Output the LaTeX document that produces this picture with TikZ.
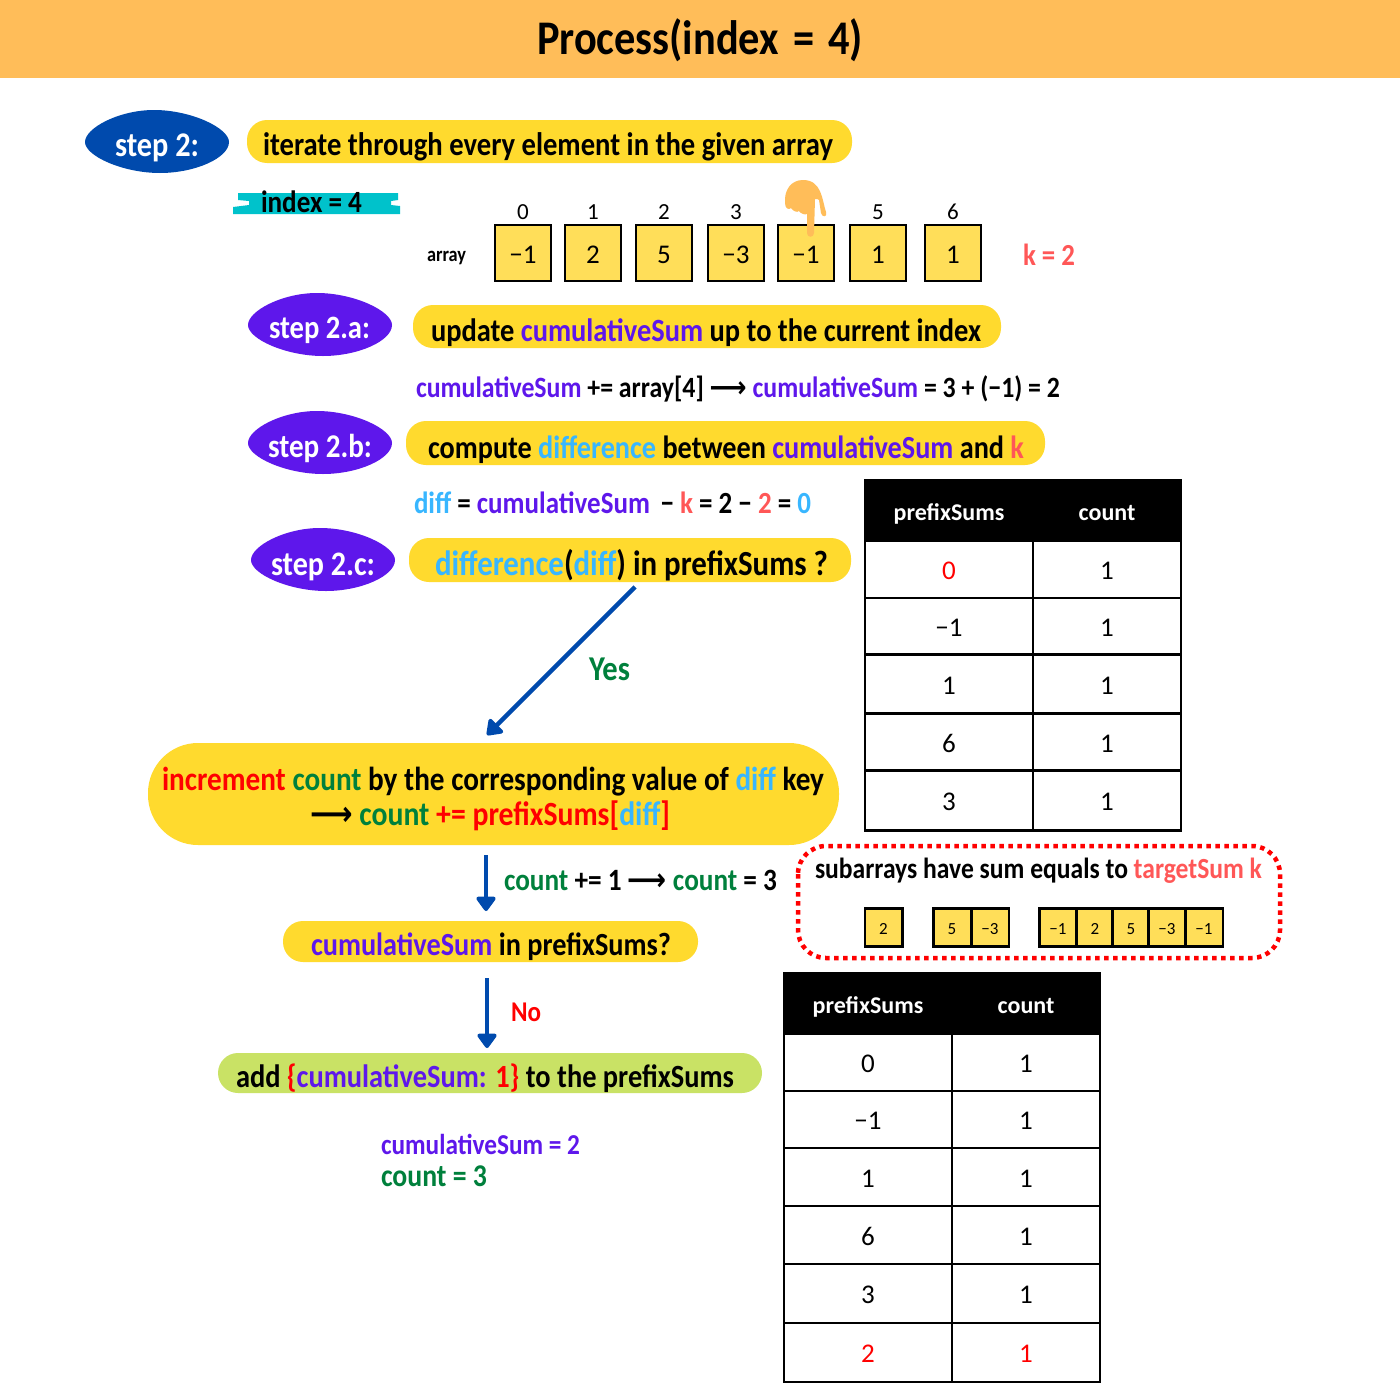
\documentclass[tikz,border=0pt]{standalone}
\usepackage{fontspec}
\usepackage{graphicx}
\usetikzlibrary{arrows.meta}
\setmainfont{Carlito}
\newfontfamily\symfont{DejaVu Sans}
\definecolor{hdr}{HTML}{FFBD59}
\definecolor{pillc}{HTML}{FFDA2E}
\definecolor{cellc}{HTML}{FFDE59}
\definecolor{navy}{HTML}{004AAD}
\definecolor{purp}{HTML}{5E17EB}
\definecolor{teal2}{HTML}{00C2CB}
\definecolor{coral}{HTML}{FF5757}
\definecolor{pure}{HTML}{FF0000}
\definecolor{grn}{HTML}{00803C}
\definecolor{sky}{HTML}{38B6FF}
\definecolor{lime2}{HTML}{C9E265}
\newcommand\cs{\textcolor{purp}{cumulativeSum}}
\newcommand\dif[1]{\textcolor{sky}{#1}}
\newcommand\cnt{\textcolor{grn}{count}}
\newcommand\arr{{\symfont\char"27F6}}
\newcommand\mn{\char"2212\relax}
% left-aligned text of a fixed width on a baseline, a little taller than the font
\newcommand\tl[6][black]{\node[lbl,text=#1] (#2) at (#3,#4) {\resizebox{#5pt}{!}{\scalebox{1}[1.14]{#6}}};}
% box given by centre and size; its text sits on a baseline \cellshift below the centre
\newcommand\cellshift{10pt}
\newcommand\cellbox[7]{\node[gridcell,fill=#6,minimum width=#4pt,minimum height=#5pt] (#1) at (#2,#3) {\raisebox{-\cellshift}[0pt][0pt]{#7}};}
\newcommand\blob[4]{%
  \fill[#4] (#2-72,#3) .. controls (#2-72,#3-14) and (#2-38,#3-32) .. (#2-3,#3-32)
    .. controls (#2+34,#3-32) and (#2+72,#3-14) .. (#2+72,#3)
    .. controls (#2+72,#3+16) and (#2+38,#3+31) .. (#2+3,#3+31)
    .. controls (#2-34,#3+31) and (#2-72,#3+14) .. cycle;}
\tikzset{
  lbl/.style={anchor=base west,inner sep=0pt,outer sep=0pt,font=\fontsize{26}{30}\selectfont\bfseries},
  gridcell/.style={draw=black,line width=2.6pt,inner sep=0pt,outer sep=0pt,font=\fontsize{27}{30}\selectfont},
  pill/.style={fill=#1,rounded corners=20pt},
  digit/.style={inner sep=0pt,font=\fontsize{23}{26}\selectfont},
  headtxt/.style={anchor=base,inner sep=0pt,text=white,font=\fontsize{24}{28}\selectfont\bfseries},
  flow/.style={draw=navy,line width=4.5pt,-{Triangle[length=16pt,width=22pt,round]}},
}
\begin{document}
\begin{tikzpicture}[x=1pt,y=-1pt]
\useasboundingbox (0,0) rectangle (1400,1400);
\fill[white] (0,0) rectangle (1400,1400);
\fill[hdr] (0,0) rectangle (1400,78);
\tl{title}{537}{54}{326}{\fontsize{44}{48}\selectfont Process(index\,\,=\,\,4)}

% step blobs
\blob{b0}{157}{142}{navy}
\blob{ba}{320}{325}{purp}
\blob{bb}{320}{443}{purp}
\blob{bc}{323}{560}{purp}
\tl[white]{s0}{115}{156}{84}{step 2:}
\tl[white]{sa}{269}{338}{101}{step 2.a:}
\tl[white]{sb}{268}{457}{104}{step 2.b:}
\tl[white]{sc}{271}{575}{104}{step 2.c:}

% pills
\fill[pill=pillc] (247,120) rectangle (852,163);
\fill[pill=pillc] (413,305) rectangle (1001,348);
\fill[pill=pillc] (406,421) rectangle (1045,465);
\fill[pill=pillc] (409,538) rectangle (851,582);
\fill[pillc,rounded corners=50pt] (148,743) rectangle (839,845);
\fill[pill=pillc] (283,921) rectangle (698,962);
\fill[pill=lime2] (218,1053) rectangle (762,1093);

\tl{t0}{263}{155}{570}{iterate through every element in the given array}
\tl{ta}{431}{341}{550}{update \cs{} up to the current index}
\tl{tb}{428}{458}{596}{compute \dif{difference} between \cs{} and \textcolor{coral}{k}}
\tl{tc}{435}{575}{393}{\dif{difference}(\dif{diff}) in prefixSums ?}
\tl{f1}{416}{397}{644}{\cs{} += array[4] \arr{} \cs{} = 3 + (\mn1) = 2}
\tl{f2}{414}{513}{397}{\dif{diff} = \cs{}\, \mn{} \textcolor{coral}{k} = 2 \mn{} \textcolor{coral}{2} = \dif{0}}

% index strip
\fill[teal2] (238,193) -- (398,193) -- (398,200) -- (391,201) -- (391,205) -- (400,206) -- (400,214)
  -- (233,214) -- (233,207) -- (249,205) -- (249,201) -- (238,200) -- cycle;
\tl{idx}{261}{212}{101}{index = 4}

% array
\tl{lblarr}{427}{261}{39}{\fontsize{20}{24}\selectfont array}
\foreach \nm/\x/\v/\i in {a0/523/\mn1/0,a1/593/2/1,a2/664/5/2,a3/736/\mn3/3,a4/806/\mn1/,a5/878/1/5,a6/953/1/6}{
  \cellbox{\nm}{\x}{253}{56}{56}{cellc}{\v}
  \node[digit] (i\nm) at ([yshift=41pt]\nm.center) {\i};
}
\fill[hdr] (803,180) .. controls (791,180) and (784,190) .. (785,203)
  .. controls (785,209) and (789,210) .. (791,208) .. controls (793,211) and (797,213) .. (799,211)
  .. controls (801,214) and (805,215) .. (807,214) -- (807,233)
  .. controls (807,238) and (814,238) .. (814,233) -- (815,199)
  .. controls (817,199) and (818,199) .. (819,200) -- (821,213)
  .. controls (822,218) and (828,217) .. (826,212)
  .. controls (822,200) and (822,180) .. (803,180) -- cycle;
\tl[coral]{kval}{1023}{265}{52}{k = 2}

% table one
\fill[black] (864,479) rectangle (1182,541);
\node[headtxt] (h1a) at (949,520) {prefixSums};
\node[headtxt] (h1b) at (1107,520) {count};
\foreach \r/\y/\h/\v/\c in {1/569.5/57/0/pure,2/626.5/57/\mn1/black,3/684/59/1/black,4/742/57/6/black,5/800.5/60/3/black}{
  \cellbox{ta\r}{949}{\y}{168}{\h}{white}{\textcolor{\c}{\v}}
  \cellbox{tb\r}{1107}{\y}{148}{\h}{white}{1}
}

% flow
\coordinate (a1s) at (635,587);
\coordinate (a1e) at (487,735);
\draw[flow] (a1s) -- (a1e);
\tl[grn]{yes}{589}{680}{41}{Yes}
\tl{big1}{162}{790}{662}{\textcolor{pure}{increment} \cnt{} by the corresponding value of \dif{diff} key}
\tl{big2}{310}{825}{360}{\arr{} \cnt{} \textcolor{pure}{+= prefixSums[}\dif{diff}\textcolor{pure}{]}}
\coordinate (a2s) at (486,855);
\coordinate (a2e) at (486,911);
\draw[flow] (a2s) -- (a2e);
\tl{c1}{504}{890}{273}{\cnt{} += 1 \arr{} \cnt{} = 3}
\tl{c2}{311}{955}{360}{\cs{} in prefixSums?}
\coordinate (a3s) at (487,978);
\coordinate (a3e) at (487,1048);
\draw[flow] (a3s) -- (a3e);
\tl[pure]{no}{511}{1021}{30}{No}
\tl{add}{236}{1087}{498}{add \textcolor{pure}{\{}\cs\textcolor{purp}{:} \textcolor{pure}{1\}} to the prefixSums}
\tl{r1}{381}{1154}{199}{\cs{} \textcolor{purp}{= 2}}
\tl{r2}{381}{1186}{106}{\cnt{} \textcolor{grn}{= 3}}

% dotted frame
\draw[pure,line width=4.5pt,dash pattern=on 4.5pt off 4.5pt,rounded corners=28pt] (798,846) rectangle (1280,958);
\tl{sub}{815}{878}{447}{subarrays have sum equals to \textcolor{coral}{targetSum k}}
\begingroup
\renewcommand\cellshift{6.5pt}
\tikzset{gridcell/.append style={line width=2.5pt,font=\fontsize{17}{20}\selectfont}}
\foreach \nm/\x/\v in {s1/883.5/2,s2/952/5,s3/990/\mn3,s4/1058/\mn1,s5/1095/2,s6/1131/5,s7/1167/\mn3,s8/1204/\mn1}{
  \cellbox{\nm}{\x}{927.5}{37.5}{38}{cellc}{\v}
}
\endgroup

% table two
\fill[black] (783,972) rectangle (1101,1034);
\node[headtxt] (h2a) at (868,1013) {prefixSums};
\node[headtxt] (h2b) at (1026,1013) {count};
\foreach \r/\y/\h/\v/\c in {1/1062.5/57/0/black,2/1119.5/57/\mn1/black,3/1177/58/1/black,4/1235/58/6/black,5/1293.5/59/3/black,6/1352.5/59/2/pure}{
  \cellbox{tc\r}{868}{\y}{168}{\h}{white}{\textcolor{\c}{\v}}
  \cellbox{td\r}{1026}{\y}{148}{\h}{white}{\textcolor{\c}{1}}
}
\end{tikzpicture}
\end{document}
